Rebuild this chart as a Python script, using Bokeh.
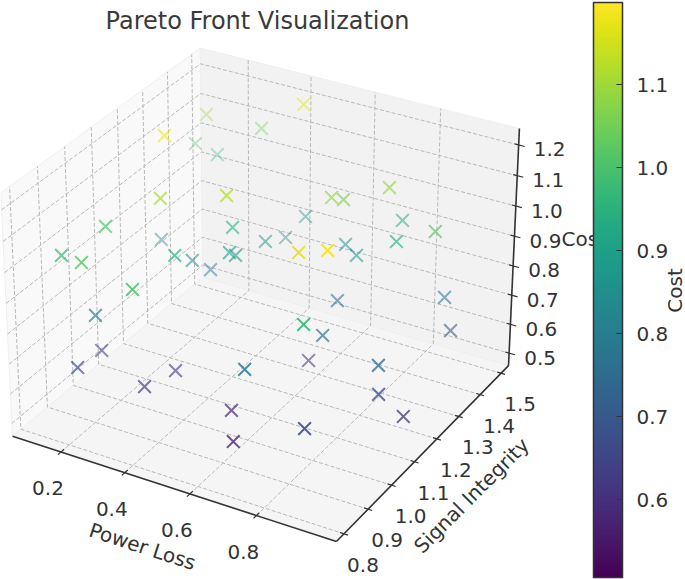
import numpy as np
from bokeh.core.properties import value
from bokeh.embed import file_html
from bokeh.models import ColorBar, FixedTicker, LinearColorMapper, PrintfTickFormatter, Range1d
from bokeh.palettes import Viridis256
from bokeh.plotting import figure
from bokeh.resources import INLINE

# values
power_loss = [0.126, 0.169, 0.256, 0.097, 0.120, 0.435, 0.292, 0.374, 0.138, 0.127,
              0.095, 0.207, 0.319, 0.305, 0.289, 0.412, 0.434, 0.440, 0.419, 0.799,
              0.379, 0.393, 0.465, 0.647, 0.672, 0.762, 0.746, 0.810, 0.927, 0.621,
              0.676, 0.865, 0.193, 0.177, 0.186, 0.363, 0.334, 0.659, 0.580, 0.654,
              0.855, 0.824, 0.673, 0.728, 0.647, 0.914, 0.948, 1.001, 0.916, 0.976]
signal_integrity = [1.455, 1.230, 1.518, 1.445, 1.507, 1.136, 1.058, 1.239, 1.033, 1.262,
                    0.917, 0.860, 1.076, 1.163, 1.257, 1.176, 1.172, 1.288, 1.403, 0.936,
                    0.840, 1.514, 1.426, 1.283, 1.299, 1.369, 1.456, 1.334, 1.331, 1.384,
                    1.354, 0.960, 0.921, 0.959, 0.857, 1.017, 0.931, 0.911, 0.961, 0.871,
                    0.887, 0.923, 1.277, 1.137, 1.191, 1.111, 1.064, 1.096, 1.401, 1.340]
cost = [1.10, 1.18, 1.05, 1.00, 0.93, 1.12, 1.12, 0.93, 1.00, 0.80,
        0.97, 1.02, 0.93, 0.85, 0.75, 0.90, 0.90, 0.87, 0.80, 1.18,
        1.00, 1.17, 0.87, 1.08, 1.07, 1.09, 0.92, 0.95, 1.02, 0.85,
        0.85, 1.19, 0.80, 0.65, 0.67, 0.60, 0.60, 0.78, 0.58, 0.57,
        0.67, 0.97, 0.75, 0.75, 0.60, 0.73, 0.68, 0.60, 0.75, 0.70]

x_ticks = [0.2, 0.4, 0.6, 0.8]
y_ticks = [0.8, 0.9, 1.0, 1.1, 1.2, 1.3, 1.4, 1.5]
z_ticks = [0.5, 0.6, 0.7, 0.8, 0.9, 1.0, 1.1, 1.2]
bar_ticks = [0.6, 0.7, 0.8, 0.9, 1.0, 1.1]

x_lim = (0.045, 1.035)
y_lim = (0.769, 1.536)
z_lim = (0.456, 1.253)
cost_lim = (0.506, 1.199)

W, H = 685, 579
TEXT = "#333333"
FONT = value("DejaVu Sans")
TICK_SIZE = "20px"

# same camera as a default 3d axes: elev 30, azim -60, distance 10
box = np.array([4, 4, 3.0]) * 1.8294640721620434 * 25 / 24 / np.linalg.norm([4, 4, 3.0])
u = np.array([np.sqrt(3) / 2, 0.5, 0])
v = np.array([-0.25, np.sqrt(3) / 4, np.sqrt(3) / 2])
w = np.array([np.sqrt(3) / 4, -0.75, 0.5])
SX, SY, X0, Y0 = 3117, 3104, 264.6, 282.4


def project(x, y, z):
    d = np.stack([
        ((np.asarray(x, float) - x_lim[0]) / (x_lim[1] - x_lim[0]) - 0.5) * box[0],
        ((np.asarray(y, float) - y_lim[0]) / (y_lim[1] - y_lim[0]) - 0.5) * box[1],
        ((np.asarray(z, float) - z_lim[0]) / (z_lim[1] - z_lim[0]) - 0.5) * box[2],
    ], axis=-1)
    depth = d @ w
    return d @ u / (10 - depth), d @ v / (10 - depth), depth


def seg(*corners):
    a = np.array(corners, float)
    px, py, _ = project(a[:, 0], a[:, 1], a[:, 2])
    return list(px), list(py)


def view_x(px):
    return (px - X0) / SX


def view_y(py):
    return (Y0 - py) / SY


p = figure(width=W, height=H, output_backend="svg", toolbar_location=None, min_border=0,
           x_range=Range1d(view_x(0), view_x(W)), y_range=Range1d(view_y(H), view_y(0)),
           outline_line_color=None)
p.axis.visible = False
p.grid.visible = False

x0, x1 = x_lim
y0, y1 = y_lim
z0, z1 = z_lim

# panes
panes = [
    seg((x0, y0, z0), (x0, y1, z0), (x0, y1, z1), (x0, y0, z1)),
    seg((x0, y1, z0), (x1, y1, z0), (x1, y1, z1), (x0, y1, z1)),
    seg((x0, y0, z0), (x1, y0, z0), (x1, y1, z0), (x0, y1, z0)),
]
p.patches([a for a, b in panes], [b for a, b in panes],
          fill_color=["#f9f9f9", "#f2f2f2", "#f5f5f5"], line_color="#efefef", line_width=1)

# grid
grid = [seg((t, y0, z0), (t, y1, z0), (t, y1, z1)) for t in x_ticks]
grid += [seg((x1, t, z0), (x0, t, z0), (x0, t, z1)) for t in y_ticks]
grid += [seg((x0, y0, t), (x0, y1, t), (x1, y1, t)) for t in z_ticks]
p.multi_line([a for a, b in grid], [b for a, b in grid], line_color="#b8b8b8",
             line_width=1, line_dash="4 2")

# axis lines and ticks
edges = [seg((x0, y0, z0), (x1, y0, z0)), seg((x1, y0, z0), (x1, y1, z0)), seg((x1, y1, z0), (x1, y1, z1))]
p.multi_line([a for a, b in edges], [b for a, b in edges], line_color="#333333", line_width=1.6)

dy = 0.015 * (y1 - y0)
dx = 0.012 * (x1 - x0)
marks = [seg((t, y0 + dy, z0), (t, y0 - dy, z0)) for t in x_ticks]
marks += [seg((x1 - dx, t, z0), (x1 + dx, t, z0)) for t in y_ticks]
marks += [seg((x1 - dx, y1, t), (x1 + 1.5 * dx, y1, t)) for t in z_ticks]
p.multi_line([a for a, b in marks], [b for a, b in marks], line_color="#333333", line_width=1.2)


def tick_text(vals, x, y, z, xo, yo):
    px, py, _ = project(x, y, z)
    p.text(list(px), list(py), text=[f"{t:.1f}" for t in vals], x_offset=xo, y_offset=yo,
           text_align="center", text_baseline="middle", text_font=FONT,
           text_font_size=TICK_SIZE, text_color=TEXT)


tick_text(x_ticks, x_ticks, [y0] * 4, [z0] * 4, -13, 36)
tick_text(y_ticks, [x1] * 8, y_ticks, [z0] * 8, 19, 31)
tick_text(z_ticks, [x1] * 8, [y1] * 8, z_ticks, 31, 4.5)

# points, nearer ones stronger like depth shading
px, py, depth = project(power_loss, signal_integrity, cost)
shade = 0.3 + 0.7 * (depth - depth.min()) / (depth.max() - depth.min())
p.scatter(x=list(px), y=list(py), marker="x", size=18, line_width=2,
          line_color=[Viridis256[min(255, int((c - cost_lim[0]) / (cost_lim[1] - cost_lim[0]) * 256))] for c in cost],
          line_alpha=list(shade))

# titles and axis names
p.text([view_x(257)], [view_y(20)], text=["Pareto Front Visualization"], text_align="center",
       text_baseline="middle", text_font=FONT, text_font_size="24px", text_color="#3a3a3a")
p.text([view_x(142)], [view_y(546)], text=["Power Loss"], angle=-18, angle_units="deg", text_align="center",
       text_baseline="middle", text_font=FONT, text_font_size=TICK_SIZE, text_color=TEXT)
p.text([view_x(471)], [view_y(495)], text=["Signal Integrity"], angle=45, angle_units="deg", text_align="center",
       text_baseline="middle", text_font=FONT, text_font_size=TICK_SIZE, text_color=TEXT)
p.text([view_x(561)], [view_y(238)], text=["Cost"], text_align="left",
       text_baseline="middle", text_font=FONT, text_font_size=TICK_SIZE, text_color=TEXT)
p.text([view_x(674)], [view_y(290)], text=["Cost"], angle=90, angle_units="deg", text_align="center",
       text_baseline="middle", text_font=FONT, text_font_size=TICK_SIZE, text_color=TEXT)

# colour bar, 83px per 0.1 in the picture
bar_top, bar_bottom = 2, 577
bar_mapper = LinearColorMapper(palette=Viridis256, low=cost_lim[0], high=cost_lim[1])
bar = ColorBar(color_mapper=bar_mapper, ticker=FixedTicker(ticks=bar_ticks), location=(593, H - bar_bottom),
               width=29, height=bar_bottom - bar_top, padding=0, margin=0,
               formatter=PrintfTickFormatter(format="%.1f"), major_tick_in=6, major_tick_out=0,
               major_tick_line_color="#333333", major_tick_line_width=1.2, minor_tick_line_color=None,
               bar_line_color="#333333", bar_line_width=1.5, border_line_color=None, background_fill_color=None,
               label_standoff=14, major_label_text_font="DejaVu Sans", major_label_text_font_size=TICK_SIZE,
               major_label_text_color=TEXT)
p.add_layout(bar)

open("out.html", "w").write(file_html(p, INLINE))
